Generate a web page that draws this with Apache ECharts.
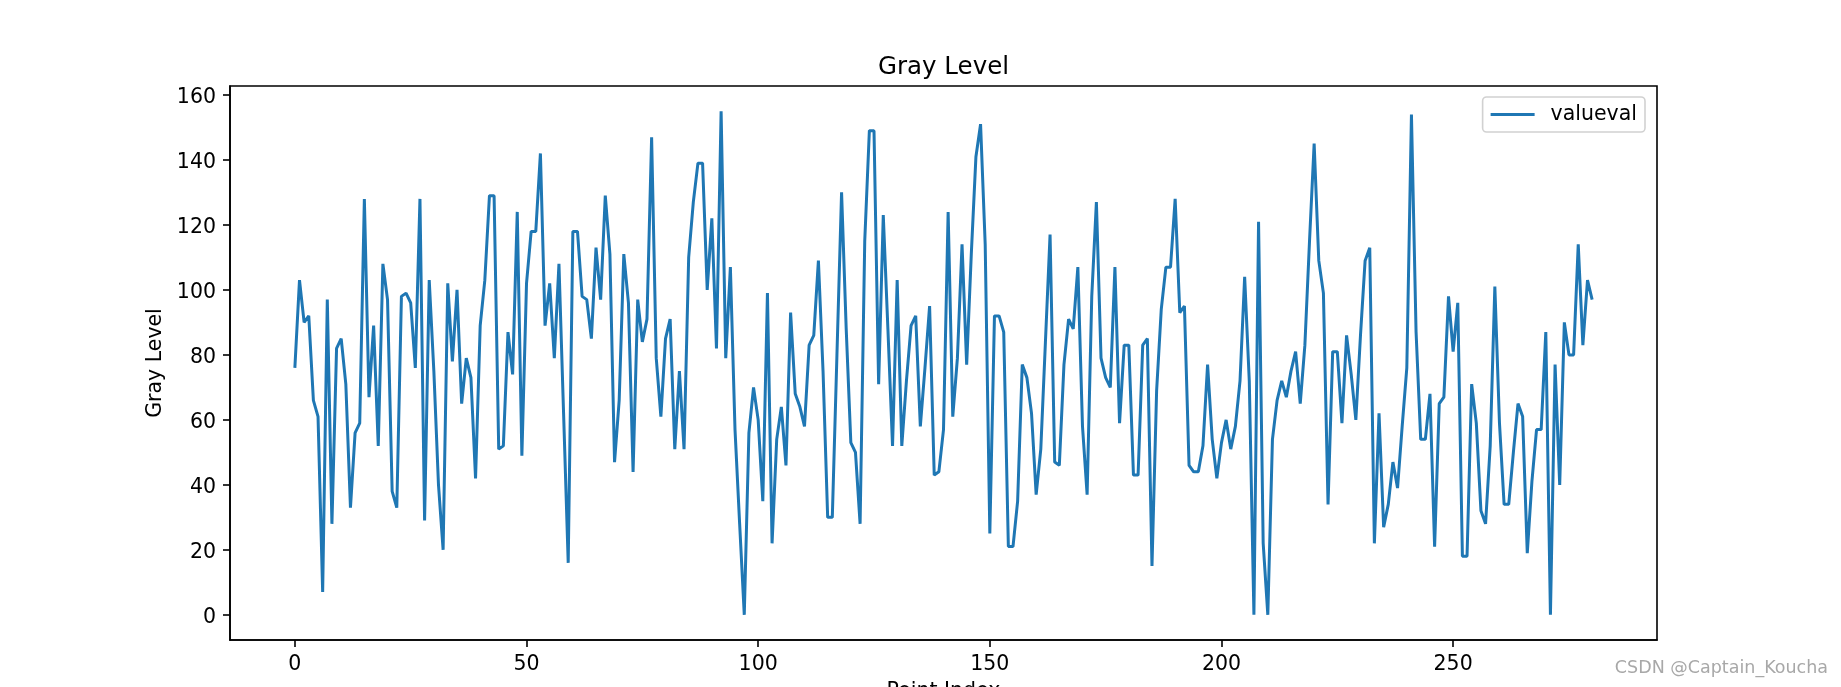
<!DOCTYPE html>
<html>
<head>
<meta charset="utf-8">
<script src="https://cdn.jsdelivr.net/npm/echarts@6/dist/echarts.min.js"></script>
<style>
html,body{margin:0;padding:0;background:#fff;}
#chart{width:1841px;height:687px;}
</style>
</head>
<body>
<div id="chart"></div>
<script>
// ---- data ----
const titleText = 'Gray Level';
const seriesName = 'valueval';
const xAxisName = 'Point Index';
const yAxisName = 'Gray Level';
const xTicks = [0, 50, 100, 150, 200, 250];
const yTicks = [0, 20, 40, 60, 80, 100, 120, 140, 160];
const grayValues = [
  76,103,90,92,66,61,7,97,28,82,85,71,33,56,59,128,67,89,52,108,97,38,33,98,99,
  96,76,128,29,103,75,40,20,102,78,100,65,79,73,42,89,103,129,129,51,52,87,74,124,49,
  102,118,118,142,89,102,79,108,62,16,118,118,98,97,85,113,97,129,111,47,66,111,96,44,97,
  84,91,147,79,61,85,91,51,75,51,110,127,139,139,100,122,82,155,79,107,57,28,0,56,70,
  60,35,99,22,54,64,46,93,68,64,58,83,86,109,75,30,30,80,130,88,53,50,28,115,149,
  149,71,123,88,52,103,52,72,89,92,58,76,95,43,44,57,124,61,79,114,77,111,141,151,114,
  25,92,92,87,21,21,35,77,73,62,37,51,84,117,47,46,77,91,88,107,58,37,98,127,79,
  73,70,107,59,83,83,43,43,83,85,15,69,94,107,107,128,93,95,46,44,44,52,77,54,42,
  53,60,51,58,72,104,72,0,121,22,0,54,66,72,67,75,81,65,83,115,145,109,99,34,81,
  81,59,86,74,60,86,109,113,22,62,27,34,47,39,58,76,154,87,54,54,68,21,65,67,98,
  81,96,18,18,71,59,32,28,52,101,59,34,34,50,65,61,19,41,57,57,87,0,77,40,90,
  80,80,114,83,103,97
];
const watermark = 'CSDN @Captain_Koucha';

// ---- chart ----
const points = grayValues.map((v, i) => [i, v]);
const n = grayValues.length - 1;
const xPad = n * 0.05;
const yMax = Math.max(...grayValues), yMin = Math.min(...grayValues);
const yPad = (yMax - yMin) * 0.05;

const FONT = 'DejaVu Sans';
const FS = 20.5;
const chart = echarts.init(document.getElementById('chart'), null, {renderer: 'canvas'});
chart.setOption({
  animation: false,
  backgroundColor: '#ffffff',
  title: {
    text: titleText,
    left: 938.5,
    top: 50,
    textAlign: 'center',
    textStyle: {fontFamily: FONT, fontSize: 24.5, fontWeight: 'normal', color: '#000'}
  },
  legend: {
    data: [{name: seriesName, icon: 'rect'}],
    right: 196,
    top: 97,
    orient: 'vertical',
    itemWidth: 44,
    itemHeight: 3,
    padding: [7, 8, 7, 8],
    borderColor: 'rgba(204,204,204,0.9)',
    borderWidth: 1.6,
    borderRadius: 4,
    backgroundColor: 'rgba(255,255,255,0.8)',
    textStyle: {fontFamily: FONT, fontSize: FS, color: '#000', padding: [0, 0, 0, 11]}
  },
  grid: {
    left: 230, right: 184, top: 86, bottom: 47,
    show: true, borderColor: '#000', borderWidth: 1.6, backgroundColor: 'transparent',
    containLabel: false,
    outerBoundsMode: 'none'
  },
  xAxis: {
    type: 'value',
    min: -xPad, max: n + xPad,
    name: xAxisName,
    nameLocation: 'middle',
    nameGap: 41,
    nameTextStyle: {fontFamily: FONT, fontSize: FS, color: '#000'},
    axisLine: {show: true, onZero: false, lineStyle: {color: '#000', width: 1.6}},
    axisTick: {show: true, length: 7, lineStyle: {color: '#000', width: 1.6}, customValues: xTicks},
    axisLabel: {margin: 14, fontFamily: FONT, fontSize: FS, color: '#000', customValues: xTicks},
    splitLine: {show: false}
  },
  yAxis: {
    type: 'value',
    min: yMin - yPad, max: yMax + yPad,
    name: yAxisName,
    nameLocation: 'middle',
    nameGap: 64,
    nameTextStyle: {fontFamily: FONT, fontSize: FS, color: '#000'},
    axisLine: {show: true, onZero: false, lineStyle: {color: '#000', width: 1.6}},
    axisTick: {show: true, length: 7, lineStyle: {color: '#000', width: 1.6}, customValues: yTicks},
    axisLabel: {margin: 14, fontFamily: FONT, fontSize: FS, color: '#000', customValues: yTicks,
                verticalAlign: 'top', lineHeight: 6},
    splitLine: {show: false}
  },
  series: [{
    name: seriesName,
    type: 'line',
    data: points,
    showSymbol: false,
    symbol: 'none',
    color: '#1f77b4',
    lineStyle: {color: '#1f77b4', width: 3},
    itemStyle: {color: '#1f77b4'},
    emphasis: {disabled: true}
  }],
  graphic: [{
    type: 'text',
    right: 13,
    top: 659,
    style: {text: watermark, fontFamily: FONT, fontSize: 17.5, fill: '#a8a8a8'}
  }]
});
</script>
</body>
</html>
